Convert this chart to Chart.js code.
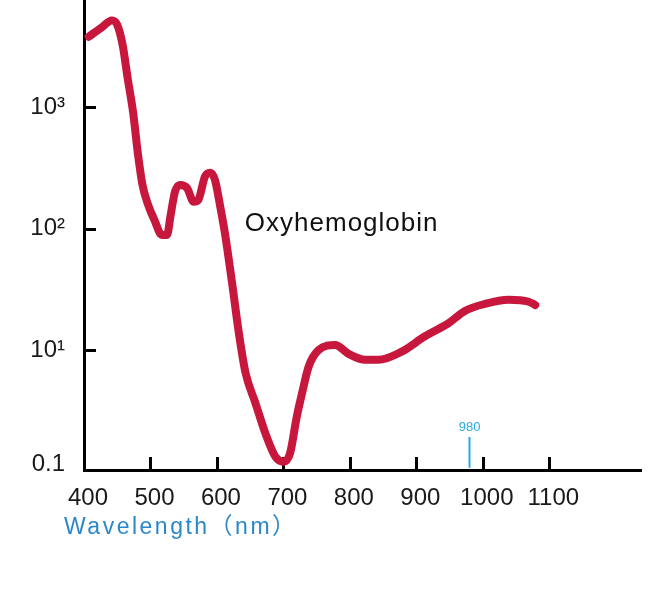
<!DOCTYPE html>
<html>
<head>
<meta charset="utf-8">
<script src="https://cdn.jsdelivr.net/npm/chart.js@4.4.1/dist/chart.umd.min.js"></script>
<style>
  html, body { margin: 0; padding: 0; background: #ffffff; }
  #wrap { width: 650px; height: 591px; }
</style>
</head>
<body>
<div id="wrap"><canvas id="c" width="650" height="591"></canvas></div>
<script>
// ---- data ----
const wavelengths = [407, 425, 442, 450, 458, 466, 474, 481, 488, 496, 506, 517, 525, 530, 537, 545, 555, 565, 572, 582, 590, 597, 605, 612, 623, 633, 643, 658, 673, 688, 700, 710, 720, 728, 738, 753, 778, 798, 823, 843, 878, 913, 948, 973, 1003, 1039, 1069, 1079];
const absorption  = [3830, 4500, 5200, 4800, 3300, 1700, 900, 420, 230, 160, 118, 89, 89, 126, 203, 230, 217, 167, 173, 270, 290, 253, 152, 92, 35, 13.8, 6.5, 3.65, 2.05, 1.32, 1.2, 1.41, 2.8, 4.4, 7.3, 10, 11, 9.3, 8.3, 8.3, 9.7, 13, 16.6, 21, 24, 26, 25, 23.5];

const xTickValues = [400, 500, 600, 700, 800, 900, 1000, 1100];
const xTickLabels = ['400', '500', '600', '700', '800', '900', '1000', '1100'];
const xTickMarks  = [500, 600, 700, 800, 900, 1000, 1100];

const yTickValues = [1.15, 10, 100, 1000];
const yTickLabels = ['0.1', '10\u00B9', '10\u00B2', '10\u00B3'];
const yTickMarks  = [10, 100, 1000];

const markerWavelength = 980;
const markerRange = [1.07, 1.92];
const markerLabel = '980';

const curveLabel = 'Oxyhemoglobin';
const curveLabelAt = [642, 96];
const axisTitle = 'Wavelength\uFF08nm\uFF09';

const FONT = '"Liberation Sans", Arial, Helvetica, "Noto Sans CJK SC", sans-serif';

const extras = {
  id: 'extras',
  beforeDatasetsDraw(chart) {
    const ctx = chart.ctx, xs = chart.scales.x, ys = chart.scales.y;
    const area = chart.chartArea;
    ctx.save();
    ctx.strokeStyle = '#000';
    ctx.lineWidth = 3;
    ctx.lineCap = 'butt';
    xTickMarks.forEach(v => {
      const px = Math.round(xs.getPixelForValue(v)) + 0.5;
      ctx.beginPath();
      ctx.moveTo(px, area.bottom);
      ctx.lineTo(px, area.bottom - 13);
      ctx.stroke();
    });
    yTickMarks.forEach(v => {
      const py = Math.round(ys.getPixelForValue(v)) + 0.5;
      ctx.beginPath();
      ctx.moveTo(area.left, py);
      ctx.lineTo(area.left + 12, py);
      ctx.stroke();
    });
    ctx.restore();
  },
  afterDraw(chart) {
    const ctx = chart.ctx, xs = chart.scales.x, ys = chart.scales.y;
    ctx.save();
    // curve label
    ctx.fillStyle = '#111';
    ctx.font = '26px ' + FONT;
    ctx.letterSpacing = '1px';
    ctx.textAlign = 'left';
    ctx.textBaseline = 'alphabetic';
    ctx.fillText(curveLabel, xs.getPixelForValue(curveLabelAt[0]), ys.getPixelForValue(curveLabelAt[1]));
    // marker label
    ctx.fillStyle = '#29abe2';
    ctx.font = '13px ' + FONT;
    ctx.letterSpacing = '0px';
    ctx.textAlign = 'center';
    ctx.fillText(markerLabel, xs.getPixelForValue(markerWavelength), ys.getPixelForValue(markerRange[1]) - 6);
    // axis title
    ctx.fillStyle = '#2b88c8';
    ctx.font = '23px ' + FONT;
    ctx.letterSpacing = '2.5px';
    ctx.textAlign = 'left';
    ctx.fillText(axisTitle, 64, 534);
    ctx.restore();
  }
};

new Chart(document.getElementById('c'), {
  type: 'line',
  data: {
    datasets: [
      {
        label: 'Oxyhemoglobin',
        data: wavelengths.map((w, i) => ({ x: w, y: absorption[i] })),
        borderColor: '#c8173d',
        borderWidth: 8,
        borderCapStyle: 'round',
        borderJoinStyle: 'round',
        cubicInterpolationMode: 'monotone',
        pointRadius: 0,
        fill: false
      },
      {
        label: '980',
        data: markerRange.map(v => ({ x: markerWavelength, y: v })),
        borderColor: '#29abe2',
        borderWidth: 2,
        pointRadius: 0,
        fill: false
      }
    ]
  },
  options: {
    responsive: false,
    animation: false,
    devicePixelRatio: 1,
    layout: { padding: { left: 0, right: 9, top: 0, bottom: 0 } },
    plugins: { legend: { display: false }, tooltip: { enabled: false }, title: { display: false } },
    scales: {
      x: {
        type: 'linear',
        min: 400,
        max: 1238,
        grid: { display: false, drawTicks: false },
        border: { display: true, color: '#000', width: 3 },
        ticks: {
          color: '#1a1a1a',
          font: { family: FONT, size: 24 },
          padding: 14,
          labelOffset: 4,
          maxRotation: 0,
          autoSkip: false,
          callback: (v, i) => xTickLabels[i]
        },
        afterBuildTicks: s => { s.ticks = xTickValues.map(v => ({ value: v })); },
        afterFit: s => { s.height = 121; s.paddingLeft = 0; s.paddingRight = 0; }
      },
      y: {
        type: 'logarithmic',
        min: 1.026,
        max: 7690,
        grid: { display: false, drawTicks: false },
        border: { display: true, color: '#000', width: 3 },
        ticks: {
          color: '#1a1a1a',
          font: { family: FONT, size: 24 },
          padding: 19,
          autoSkip: false,
          callback: (v, i) => yTickLabels[i]
        },
        afterBuildTicks: s => { s.ticks = yTickValues.map(v => ({ value: v })); },
        afterFit: s => { s.width = 84; s.paddingTop = 0; s.paddingBottom = 0; }
      }
    }
  },
  plugins: [extras]
});
</script>
</body>
</html>
